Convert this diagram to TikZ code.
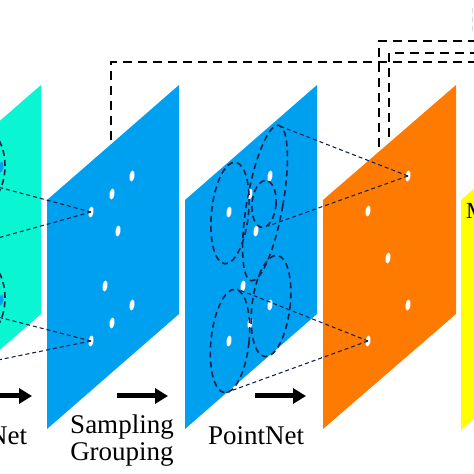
\documentclass[tikz,border=0pt]{standalone}
\usepackage{fontspec}
\setmainfont{Liberation Serif}
\usetikzlibrary{shapes.geometric,arrows.meta}
\definecolor{aqua}{RGB}{10,245,210}
\definecolor{sky}{RGB}{0,160,240}
\definecolor{tangerine}{RGB}{255,122,0}
\definecolor{lemon}{RGB}{255,255,0}
\definecolor{navy}{RGB}{20,35,80}
\tikzset{
  pnt/.style={ellipse,fill=white,minimum width=5pt,minimum height=11pt,inner sep=0pt,rotate=-8},
  ring/.style={navy,line width=1.6pt,dash pattern=on 6pt off 4pt},
  cone/.style={navy,line width=1.1pt,dash pattern=on 4pt off 3pt},
  skipline/.style={black,line width=2.4pt,dash pattern=on 9pt off 6pt},
  flowarrow/.style={line width=5pt,-{Triangle[length=13pt,width=15pt]}},
  layertext/.style={font=\fontsize{27}{27}\selectfont,inner sep=0pt,anchor=base}
}
\begin{document}
\begin{tikzpicture}[x=1pt,y=1pt]
\useasboundingbox (0,0) rectangle (474,474);
\clip (0,0) rectangle (474,474);
% layers
\fill[aqua] (-91,274) -- (41,389) -- (41,160) -- (-91,45) -- cycle;
\fill[sky] (47,274) -- (179,389) -- (179,160) -- (47,45) -- cycle;
\fill[sky] (185,274) -- (317,389) -- (317,160) -- (185,45) -- cycle;
\fill[tangerine] (323,274) -- (456,389) -- (456,160) -- (323,45) -- cycle;
\fill[lemon] (461,274) -- (593,389) -- (593,160) -- (461,44) -- cycle;
% points
\node[pnt,fill=sky] (q1) at (1,307) {};
\node[pnt,fill=sky] (q2) at (1,174) {};
\node[pnt] (p1) at (132,298) {};
\node[pnt] (p2) at (112,280) {};
\node[pnt] (p3) at (91,262) {};
\node[pnt] (p4) at (118,243) {};
\node[pnt] (p5) at (105,188) {};
\node[pnt] (p6) at (132,169) {};
\node[pnt] (p7) at (112,151) {};
\node[pnt] (p8) at (91,133) {};
\node[pnt] (g1) at (270,298) {};
\node[pnt] (g2) at (250,280) {};
\node[pnt] (g3) at (229,262) {};
\node[pnt] (g4) at (256,243) {};
\node[pnt] (g5) at (243,188) {};
\node[pnt] (g6) at (270,169) {};
\node[pnt] (g7) at (250,151) {};
\node[pnt] (g8) at (229,133) {};
\node[pnt] (f1) at (408,298) {};
\node[pnt] (f2) at (368,263) {};
\node[pnt] (f3) at (388,216) {};
\node[pnt] (f4) at (408,169) {};
\node[pnt] (f5) at (368,133) {};
% groups
\draw[ring] (-15,308) ellipse [x radius=20,y radius=36];
\draw[ring] (-15,176) ellipse [x radius=20,y radius=36];
\draw[ring,rotate around={-6:(230,261)}] (230,261) ellipse [x radius=18.5,y radius=51];
\draw[ring,rotate around={-10:(265,271)}] (265,271) ellipse [x radius=18,y radius=79];
\draw[ring,rotate around={-5:(264,270)}] (264,270) ellipse [x radius=12,y radius=23.5];
\draw[ring,rotate around={-7:(271,168)}] (271,168) ellipse [x radius=19,y radius=51];
\draw[ring,rotate around={-6:(230,133)}] (230,133) ellipse [x radius=19,y radius=52];
% cones
\coordinate (c1) at (-2,287);
\coordinate (c2) at (-2,236);
\coordinate (c3) at (-2,157);
\coordinate (c4) at (-2,114);
\coordinate (c5) at (277,349);
\coordinate (c6) at (268,248);
\coordinate (c7) at (237,185);
\coordinate (c8) at (225,81);
\draw[cone] (p3.center) -- (c1);
\draw[cone] (p3.center) -- (c2);
\draw[cone] (p8.center) -- (c3);
\draw[cone] (p8.center) -- (c4);
\draw[cone] (f1.center) -- (c5);
\draw[cone] (f1.center) -- (c6);
\draw[cone] (f5.center) -- (c7);
\draw[cone] (f5.center) -- (c8);
% skip links
\coordinate (k1) at (111,334);
\coordinate (k2) at (379,327);
\coordinate (k3) at (389,337);
\draw[skipline] (k1) |- (480,412);
\draw[skipline] (k2) |- (480,433);
\draw[skipline] (k3) |- (480,421);
\draw[skipline,black!15,line width=1pt,dash pattern=on 5pt off 4pt] (472,466) -- (472,442);
% arrows
\draw[flowarrow] (-20,78) -- (32,78);
\draw[flowarrow] (117,78) -- (168,78);
\draw[flowarrow] (255,78) -- (306,78);
% labels
\node[layertext] (t1) at (-21,29) {PointNet};
\node[layertext] (t2) at (122,40) {Sampling};
\node[layertext] (t3) at (122,13) {Grouping};
\node[layertext] (t4) at (256,29) {PointNet};
\node[font=\fontsize{23}{23}\selectfont,inner sep=0pt,anchor=base west] (t5) at (466,255) {M};
\end{tikzpicture}
\end{document}
